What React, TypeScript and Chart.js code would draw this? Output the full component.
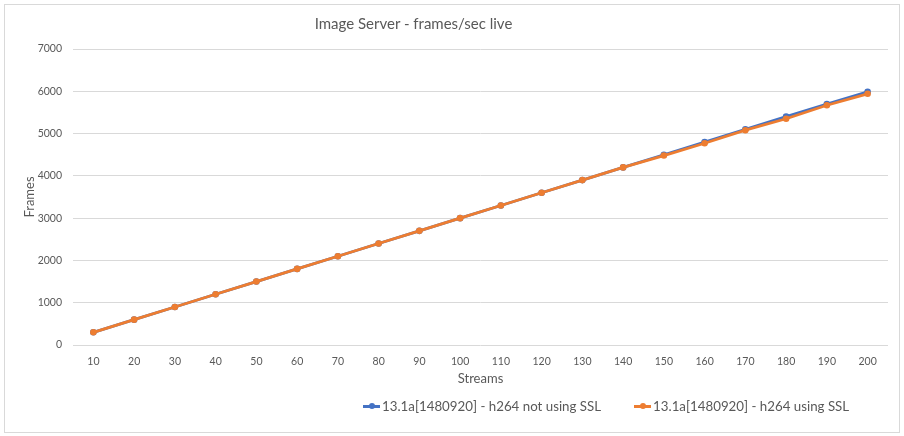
import { useEffect, useRef } from "react";
import { Chart, registerables } from "chart.js";

Chart.register(...registerables);

const streams = [10, 20, 30, 40, 50, 60, 70, 80, 90, 100, 110, 120, 130, 140, 150, 160, 170, 180, 190, 200];
const noSsl = [300, 600, 900, 1200, 1500, 1800, 2100, 2400, 2700, 3000, 3300, 3600, 3900, 4200, 4500, 4800, 5100, 5400, 5700, 5985];
const withSsl = [300, 600, 900, 1200, 1500, 1800, 2100, 2400, 2700, 3000, 3300, 3600, 3900, 4200, 4480, 4770, 5080, 5350, 5670, 5940];
const seriesNames = ["13.1a[1480920] - h264 not using SSL", "13.1a[1480920] - h264 using SSL"];

const BLUE = "#4472C4";
const ORANGE = "#ED7D31";
const TEXT = "#595959";
const GRID = "#D9D9D9";
const FONT = "Lato, 'Open Sans', sans-serif";

function FramesChart() {
  const canvasRef = useRef<HTMLCanvasElement>(null);
  const chartRef = useRef<Chart | null>(null);

  useEffect(() => {
    if (!canvasRef.current) return;
    chartRef.current?.destroy();

    chartRef.current = new Chart(canvasRef.current, {
      type: "line",
      data: {
        labels: streams.map(String),
        datasets: [
          {
            label: seriesNames[0],
            data: noSsl,
            borderColor: BLUE,
            backgroundColor: BLUE,
            borderWidth: 2.75,
            pointRadius: 3.3,
            pointBorderWidth: 0,
            tension: 0,
            order: 2,
          },
          {
            label: seriesNames[1],
            data: withSsl,
            borderColor: ORANGE,
            backgroundColor: ORANGE,
            borderWidth: 2.75,
            pointRadius: 3.3,
            pointBorderWidth: 0,
            tension: 0,
            order: 1,
          },
        ],
      },
      options: {
        animation: false,
        responsive: true,
        maintainAspectRatio: false,
        layout: { padding: { top: 44, right: 11, left: 17, bottom: 45 } },
        plugins: {
          legend: { display: false },
          title: { display: false },
          tooltip: { enabled: false },
        },
        scales: {
          x: {
            offset: true,
            grid: { display: false, drawTicks: false },
            border: { display: false },
            ticks: { color: TEXT, font: { family: FONT, size: 10.5 }, padding: 10, maxRotation: 0 },
            title: { display: true, text: "Streams", color: TEXT, font: { family: FONT, size: 13 }, padding: 0 },
            afterFit: (scale) => {
              scale.height = 42;
            },
          },
          y: {
            min: 0,
            max: 7000,
            grid: { color: GRID, drawTicks: false },
            border: { display: false },
            ticks: {
              stepSize: 1000,
              color: TEXT,
              font: { family: FONT, size: 10.5 },
              padding: 11,
              callback: (v) => String(v),
            },
            title: { display: true, text: "Frames", color: TEXT, font: { family: FONT, size: 13 }, padding: 0 },
            afterFit: (scale) => {
              scale.width = 51;
            },
          },
        },
      },
    });

    return () => {
      chartRef.current?.destroy();
      chartRef.current = null;
    };
  }, []);

  return (
    <div style={{ position: "absolute", left: 0, top: 0, width: 894, height: 427 }}>
      <canvas ref={canvasRef} />
    </div>
  );
}

function LegendItem({ color, text }: { color: string; text: string }) {
  return (
    <div style={{ display: "flex", alignItems: "center" }}>
      <div style={{ position: "relative", width: 17, height: 8, marginRight: 2 }}>
        <div style={{ position: "absolute", left: 0, top: 3, width: 17, height: 2.5, background: color }} />
        <div style={{ position: "absolute", left: 5.5, top: 1, width: 6, height: 6, borderRadius: 3, background: color }} />
      </div>
      <span>{text}</span>
    </div>
  );
}

export default function App() {
  return (
    <div style={{ position: "fixed", left: 0, top: 0, width: 904, height: 436, background: "#fff", fontFamily: FONT }}>
      <div
        style={{
          position: "absolute",
          left: 4,
          top: 4,
          width: 896,
          height: 429,
          boxSizing: "border-box",
          border: "1px solid #D9D9D9",
        }}
      >
        <FramesChart />
        <div
          style={{
            position: "absolute",
            left: 0,
            top: 9,
            width: 817,
            textAlign: "center",
            color: TEXT,
            fontSize: 15,
            lineHeight: "18px",
            pointerEvents: "none",
          }}
        >
          Image Server - frames/sec live
        </div>
        <div
          style={{
            position: "absolute",
            left: 358,
            top: 393,
            display: "flex",
            gap: 33,
            color: TEXT,
            fontSize: 13.3,
            lineHeight: "16px",
            whiteSpace: "nowrap",
          }}
        >
          <LegendItem color={BLUE} text={seriesNames[0]} />
          <LegendItem color={ORANGE} text={seriesNames[1]} />
        </div>
      </div>
    </div>
  );
}
